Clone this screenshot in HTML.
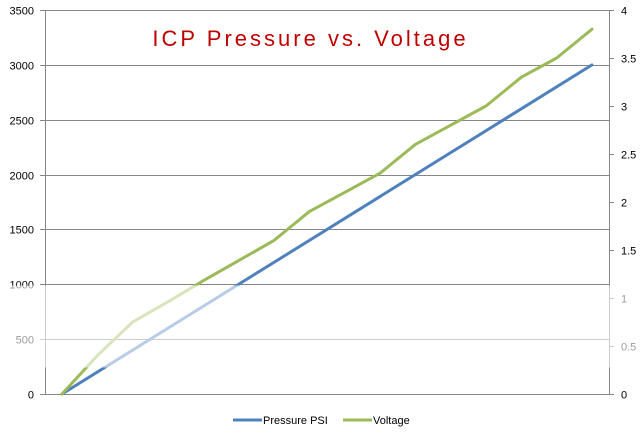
<!DOCTYPE html>
<html>
<head>
<meta charset="utf-8">
<style>
  html, body { margin: 0; padding: 0; background: #ffffff; }
  body { width: 643px; height: 437px; overflow: hidden; }
  svg { display: block; }
  text { font-family: "Liberation Sans", sans-serif; }
</style>
</head>
<body>
<svg width="643" height="437" viewBox="0 0 643 437" xmlns="http://www.w3.org/2000/svg">
  <rect x="0" y="0" width="643" height="437" fill="#ffffff"/>

  <!-- gridlines -->
  <g stroke="#868686" stroke-width="1" shape-rendering="crispEdges">
    <line x1="45" y1="10.5" x2="609" y2="10.5"/>
    <line x1="45" y1="65.5" x2="609" y2="65.5"/>
    <line x1="45" y1="120.5" x2="609" y2="120.5"/>
    <line x1="45" y1="175.5" x2="609" y2="175.5"/>
    <line x1="45" y1="229.5" x2="609" y2="229.5"/>
    <line x1="45" y1="284.5" x2="609" y2="284.5"/>
    <line x1="45" y1="339.5" x2="609" y2="339.5"/>
    <line x1="45" y1="394.5" x2="609" y2="394.5"/>
    <!-- left axis -->
    <line x1="45.5" y1="10" x2="45.5" y2="395"/>
    <!-- right axis -->
    <line x1="609.5" y1="10" x2="609.5" y2="395"/>
    <!-- left ticks -->
    <line x1="40" y1="10.5" x2="45" y2="10.5"/>
    <line x1="40" y1="65.5" x2="45" y2="65.5"/>
    <line x1="40" y1="120.5" x2="45" y2="120.5"/>
    <line x1="40" y1="175.5" x2="45" y2="175.5"/>
    <line x1="40" y1="229.5" x2="45" y2="229.5"/>
    <line x1="40" y1="284.5" x2="45" y2="284.5"/>
    <line x1="40" y1="339.5" x2="45" y2="339.5"/>
    <line x1="40" y1="394.5" x2="45" y2="394.5"/>
    <!-- right ticks -->
    <line x1="609" y1="10.5" x2="614" y2="10.5"/>
    <line x1="609" y1="58.5" x2="614" y2="58.5"/>
    <line x1="609" y1="106.5" x2="614" y2="106.5"/>
    <line x1="609" y1="154.5" x2="614" y2="154.5"/>
    <line x1="609" y1="202.5" x2="614" y2="202.5"/>
    <line x1="609" y1="250.5" x2="614" y2="250.5"/>
    <line x1="609" y1="298.5" x2="614" y2="298.5"/>
    <line x1="609" y1="346.5" x2="614" y2="346.5"/>
    <line x1="609" y1="394.5" x2="614" y2="394.5"/>
  </g>

  <!-- left axis labels -->
  <g font-size="11" fill="#000" text-anchor="end">
    <text x="34" y="14.5">3500</text>
    <text x="34" y="69.5">3000</text>
    <text x="34" y="124.5">2500</text>
    <text x="34" y="179.5">2000</text>
    <text x="34" y="233.5">1500</text>
    <text x="34" y="288.5">1000</text>
    <text x="34" y="343.5">500</text>
    <text x="34" y="398.5">0</text>
  </g>

  <!-- right axis labels -->
  <g font-size="11" fill="#000" text-anchor="start">
    <text x="621" y="14.5">4</text>
    <text x="621" y="62.5">3.5</text>
    <text x="621" y="110.5">3</text>
    <text x="621" y="158.5">2.5</text>
    <text x="621" y="206.5">2</text>
    <text x="621" y="254.5">1.5</text>
    <text x="621" y="302.5">1</text>
    <text x="621" y="350.5">0.5</text>
    <text x="621" y="398.5">0</text>
  </g>

  <!-- Pressure series -->
  <polyline fill="none" stroke="#4F81BD" stroke-width="3" stroke-linejoin="round" stroke-linecap="round"
    points="62,394 592,64.9"/>

  <!-- Voltage series -->
  <polyline fill="none" stroke="#9BBB59" stroke-width="3" stroke-linejoin="round" stroke-linecap="round"
    points="62,394 97.33,355.6 132.67,322 168,301.8 203.33,280.7 238.67,260.6 274,240.4 309.33,211.6 344.67,192.4 380,173.2 415.33,144.4 450.67,125.2 486,106 521.33,77.2 556.67,58 592,29.2"/>

  <!-- faded watermark band -->
  <rect x="0" y="285.5" width="643" height="82" fill="#ffffff" fill-opacity="0.6"/>

  <!-- title -->
  <text x="310.5" y="46" font-size="22" fill="#C00000" text-anchor="middle" letter-spacing="3">ICP Pressure vs. Voltage</text>

  <!-- legend -->
  <line x1="233" y1="420" x2="262" y2="420" stroke="#4F81BD" stroke-width="3"/>
  <text x="263" y="424" font-size="11" fill="#000">Pressure PSI</text>
  <line x1="343" y1="420" x2="372" y2="420" stroke="#9BBB59" stroke-width="3"/>
  <text x="373" y="424" font-size="11" fill="#000">Voltage</text>
</svg>
</body>
</html>
